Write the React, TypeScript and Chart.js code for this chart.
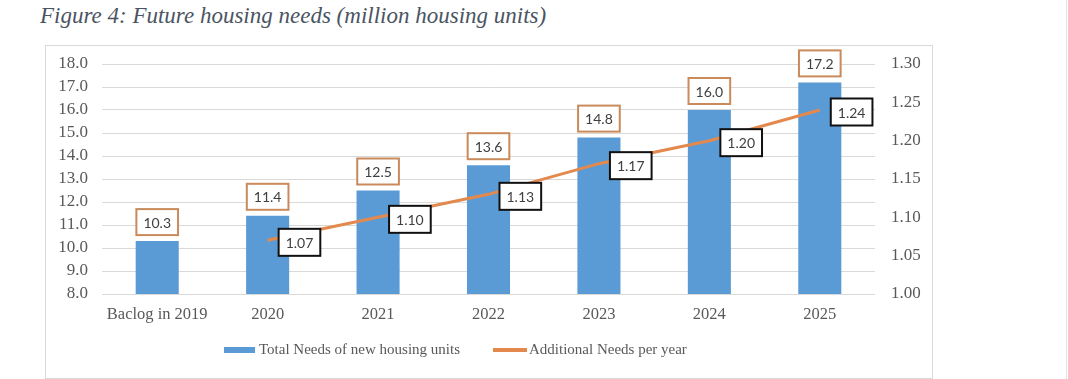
import React, { useEffect, useRef } from "react";
import { Chart, registerables } from "chart.js";

Chart.register(...registerables);

const categories = ["Baclog in 2019", "2020", "2021", "2022", "2023", "2024", "2025"];
const totalNeeds = [10.3, 11.4, 12.5, 13.6, 14.8, 16.0, 17.2];
const additionalNeeds: (number | null)[] = [null, 1.07, 1.1, 1.13, 1.17, 1.2, 1.24];
const leftTicks = [8, 9, 10, 11, 12, 13, 14, 15, 16, 17, 18];
const rightTicks = [1.0, 1.05, 1.1, 1.15, 1.2, 1.25, 1.3];

const BAR_COLOR = "#5B9BD5";
const LINE_COLOR = "#E3894D";
const AXIS_TEXT = "#595959";
const SERIF = "'Liberation Serif', 'Times New Roman', serif";
const SANS = "Lato, 'Noto Sans', sans-serif";

const W = 886;
const H = 332;

const labelPlugin = {
  id: "boxLabels",
  afterDatasetsDraw(chart: any) {
    const ctx = chart.ctx as CanvasRenderingContext2D;
    ctx.save();
    ctx.font = `14px ${SANS}`;
    ctx.textBaseline = "middle";
    ctx.textAlign = "center";
    // bar labels
    const m0 = chart.getDatasetMeta(0);
    m0.data.forEach((el: any, i: number) => {
      const txt = totalNeeds[i].toFixed(1);
      const tw = ctx.measureText(txt).width;
      const bw = tw + 14;
      const bh = 26;
      const bx = el.x - bw / 2;
      const by = el.y - 6 - bh;
      ctx.fillStyle = "#ffffff";
      ctx.fillRect(bx, by, bw, bh);
      ctx.strokeStyle = "#C98A5C";
      ctx.lineWidth = 2;
      ctx.strokeRect(bx, by, bw, bh);
      ctx.fillStyle = "#404040";
      ctx.fillText(txt, el.x, by + bh / 2 + 1);
    });
    // line labels
    const m1 = chart.getDatasetMeta(1);
    m1.data.forEach((el: any, i: number) => {
      const v = additionalNeeds[i];
      if (v === null || v === undefined) return;
      const txt = v.toFixed(2);
      const tw = ctx.measureText(txt).width;
      const bw = tw + 14;
      const bh = 27;
      const bx = el.x + 11;
      const by = el.y + 2 - bh / 2;
      ctx.fillStyle = "#ffffff";
      ctx.fillRect(bx, by, bw, bh);
      ctx.strokeStyle = "#111111";
      ctx.lineWidth = 2;
      ctx.strokeRect(bx, by, bw, bh);
      ctx.fillStyle = "#404040";
      ctx.fillText(txt, bx + bw / 2, by + bh / 2 + 1);
    });
    ctx.restore();
  },
  afterDraw(chart: any) {
    const ctx = chart.ctx as CanvasRenderingContext2D;
    ctx.save();
    ctx.font = `15px ${SERIF}`;
    ctx.textBaseline = "middle";
    ctx.textAlign = "left";
    const y = 304;
    let x = 178;
    const names = chart.data.datasets.map((d: any) => d.label);
    // bar item
    ctx.fillStyle = BAR_COLOR;
    ctx.fillRect(x, y - 3, 31, 6);
    x += 35;
    ctx.fillStyle = AXIS_TEXT;
    ctx.fillText(names[0], x, y);
    x += ctx.measureText(names[0]).width + 33;
    // line item
    ctx.strokeStyle = LINE_COLOR;
    ctx.lineWidth = 4;
    ctx.beginPath();
    ctx.moveTo(x, y);
    ctx.lineTo(x + 34, y);
    ctx.stroke();
    x += 36;
    ctx.fillStyle = AXIS_TEXT;
    ctx.fillText(names[1], x, y);
    ctx.restore();
  },
};

export default function App() {
  const ref = useRef<HTMLCanvasElement | null>(null);
  useEffect(() => {
    if (!ref.current) return;
    const chart = new Chart(ref.current, {
      type: "bar",
      data: {
        labels: categories,
        datasets: [
          {
            type: "bar",
            label: "Total Needs of new housing units",
            data: totalNeeds,
            backgroundColor: BAR_COLOR,
            yAxisID: "y",
            categoryPercentage: 1,
            barPercentage: 0.39,
            order: 2,
          },
          {
            type: "line",
            label: "Additional Needs per year",
            data: additionalNeeds,
            borderColor: LINE_COLOR,
            backgroundColor: LINE_COLOR,
            borderWidth: 3,
            pointRadius: 0,
            tension: 0,
            yAxisID: "y1",
            order: 1,
          },
        ] as any,
      },
      options: {
        animation: false,
        responsive: false,
        maintainAspectRatio: false,
        layout: { padding: { top: 18, bottom: 40, left: 0, right: 0 } },
        plugins: {
          legend: { display: false },
          tooltip: { enabled: false },
        },
        scales: {
          x: {
            grid: { display: false },
            border: { display: false },
            ticks: {
              color: AXIS_TEXT,
              font: { family: SERIF, size: 16.5 },
              padding: 3,
              maxRotation: 0,
              autoSkip: false,
            },
            afterFit: (s: any) => {
              s.height = 44;
              s.paddingLeft = 0;
              s.paddingRight = 0;
            },
          },
          y: {
            position: "left",
            min: 8,
            max: 18,
            afterBuildTicks: (s: any) => {
              s.ticks = leftTicks.map((v) => ({ value: v }));
            },
            grid: { color: "#D9D9D9", drawTicks: false, lineWidth: 1 },
            border: { display: false },
            ticks: {
              color: AXIS_TEXT,
              font: { family: SERIF, size: 17 },
              padding: 14,
              autoSkip: false,
              callback: (v: any) => Number(v).toFixed(1),
            },
            afterFit: (s: any) => {
              s.width = 56;
              s.paddingTop = 0;
              s.paddingBottom = 0;
            },
          },
          y1: {
            position: "right",
            min: 1,
            max: 1.3,
            afterBuildTicks: (s: any) => {
              s.ticks = rightTicks.map((v) => ({ value: v }));
            },
            grid: { display: false, drawTicks: false },
            border: { display: false },
            ticks: {
              color: AXIS_TEXT,
              font: { family: SERIF, size: 17 },
              padding: 16,
              autoSkip: false,
              callback: (v: any) => Number(v).toFixed(2),
            },
            afterFit: (s: any) => {
              s.width = 57;
              s.paddingTop = 0;
              s.paddingBottom = 0;
            },
          },
        },
      } as any,
      plugins: [labelPlugin],
    });
    return () => chart.destroy();
  }, []);

  return (
    <div
      style={{
        position: "absolute",
        left: 0,
        top: 0,
        width: 1068,
        height: 379,
        background: "#ffffff",
        overflow: "hidden",
      }}
    >
      <div
        style={{
          position: "absolute",
          left: 40,
          top: 3,
          fontFamily: SERIF,
          fontStyle: "italic",
          fontSize: 23,
          color: "#4A5462",
          whiteSpace: "nowrap",
          lineHeight: "26px",
        }}
      >
        Figure 4: Future housing needs (million housing units)
      </div>
      <div
        style={{
          position: "absolute",
          left: 45,
          top: 45,
          width: W,
          height: H,
          border: "1px solid #D9D9D9",
        }}
      >
        <canvas ref={ref} width={W} height={H} style={{ display: "block", width: W, height: H }} />
      </div>
      <div
        style={{
          position: "absolute",
          left: 1066,
          top: 0,
          width: 1,
          height: 379,
          background: "#E3E3E3",
        }}
      />
    </div>
  );
}
